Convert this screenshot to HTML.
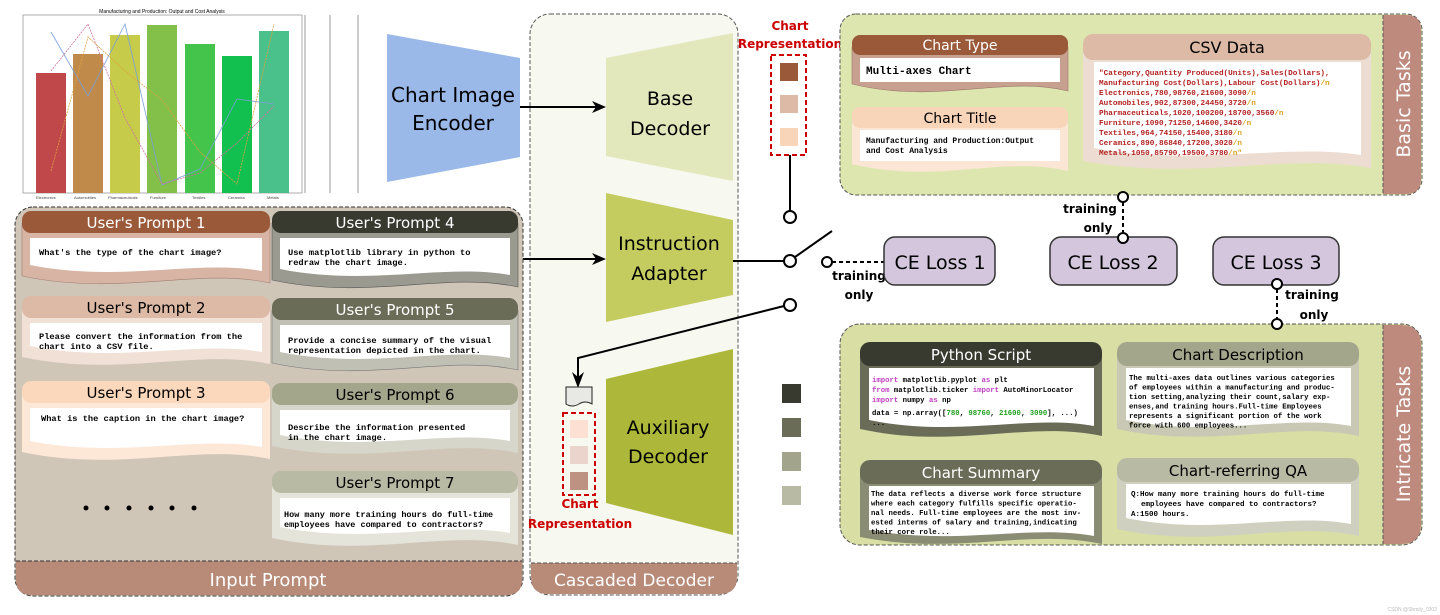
<!DOCTYPE html>
<html><head><meta charset="utf-8"><style>
html,body{margin:0;padding:0;background:#fff;}
svg{display:block}
.h{font-family:"DejaVu Sans","Liberation Sans",sans-serif;}
.m{font-family:"Liberation Mono",monospace;font-weight:bold;}
</style></head><body>
<svg width="1440" height="615" viewBox="0 0 1440 615" xmlns="http://www.w3.org/2000/svg">
<!-- chart -->
<g>
<rect x="23" y="15" width="279" height="178" fill="#fff" stroke="#999" stroke-width="0.8"/>
<text x="162" y="13" font-size="5" text-anchor="middle" font-family="Liberation Sans">Manufacturing and Production: Output and Cost Analysis</text>
<rect x="36" y="73" width="30" height="120" fill="#c0474a"/>
<rect x="73" y="54" width="30" height="139" fill="#c08a4a"/>
<rect x="110" y="35" width="30" height="158" fill="#c6cc4a"/>
<rect x="147" y="25" width="30" height="168" fill="#82c04a"/>
<rect x="185" y="44" width="30" height="149" fill="#44c44a"/>
<rect x="222" y="56" width="30" height="137" fill="#12c050"/>
<rect x="259" y="31" width="30" height="162" fill="#4ac08a"/>
<polyline points="51,32 88,96 125,24 162,185 200,169 237,99 274,104" fill="none" stroke="#7aa0d8" stroke-width="0.8"/>
<polyline points="51,71 88,24 125,118 162,184 200,173 237,143 274,106" fill="none" stroke="#d070a0" stroke-width="0.8" stroke-dasharray="2,1"/>
<polyline points="51,171 88,37 125,71 162,100 200,152 237,184 274,24" fill="none" stroke="#e0a040" stroke-width="0.8" stroke-dasharray="2,1"/>
<line x1="305" y1="15" x2="305" y2="193" stroke="#999"/>
<line x1="330" y1="15" x2="330" y2="193" stroke="#999"/>
<line x1="358" y1="15" x2="358" y2="193" stroke="#999"/>
<g font-size="4" font-family="Liberation Sans" fill="#444">
<text x="36" y="199">Electronics</text><text x="74" y="199">Automobiles</text><text x="108" y="199">Pharmaceuticals</text><text x="150" y="199">Furniture</text><text x="192" y="199">Textiles</text><text x="228" y="199">Ceramics</text><text x="267" y="199">Metals</text>
</g>
</g>
<!-- encoder -->
<polygon points="387,34 520,58 520,157 387,182" fill="#9ab8e8"/>
<text class="h" x="453" y="102" font-size="20" text-anchor="middle">Chart Image</text>
<text class="h" x="453" y="130" font-size="20" text-anchor="middle">Encoder</text>
<!-- cascaded decoder -->
<rect x="530" y="14" width="208" height="581" rx="20" fill="#f7f8f0" stroke="#555" stroke-dasharray="4,2"/>
<path d="M531,563 H737 V577 Q737,594 720,594 H548 Q531,594 531,577 Z" fill="#b88a78"/>
<line x1="531" y1="563" x2="737" y2="563" stroke="#555" stroke-dasharray="4,2"/>
<text class="h" x="634" y="586" font-size="17" fill="#fff" text-anchor="middle">Cascaded Decoder</text>
<polygon points="606,58 733,33 733,181 606,156" fill="#e2e8bc"/>
<text class="h" x="670" y="105" font-size="19" text-anchor="middle">Base</text>
<text class="h" x="670" y="135" font-size="19" text-anchor="middle">Decoder</text>
<polygon points="606,193 733,220 733,295 606,322" fill="#c4cc60"/>
<text class="h" x="669" y="250" font-size="19" text-anchor="middle">Instruction</text>
<text class="h" x="669" y="280" font-size="19" text-anchor="middle">Adapter</text>
<polygon points="606,379 733,349 733,535 606,503" fill="#adb83a"/>
<text class="h" x="668" y="434" font-size="19" text-anchor="middle">Auxiliary</text>
<text class="h" x="668" y="463" font-size="19" text-anchor="middle">Decoder</text>
<!-- arrows -->
<line x1="520" y1="107" x2="598" y2="107" stroke="#000" stroke-width="2"/>
<polygon points="606,107 592,101 596,107 592,113" fill="#000"/>
<line x1="520" y1="259" x2="598" y2="259" stroke="#000" stroke-width="2"/>
<polygon points="606,259 592,253 596,259 592,265" fill="#000"/>
<!-- chart rep top -->
<text class="h" x="790" y="30" font-size="12" font-weight="bold" fill="#c00" text-anchor="middle">Chart</text>
<text class="h" x="790" y="48" font-size="12" font-weight="bold" fill="#c00" text-anchor="middle">Representation</text>
<rect x="771" y="55" width="35" height="100" fill="none" stroke="#c00" stroke-width="2" stroke-dasharray="5,3"/>
<rect x="780" y="63" width="18" height="18" fill="#9a5a3a"/>
<rect x="780" y="95" width="18" height="18" fill="#dcbaa6"/>
<rect x="780" y="128" width="18" height="18" fill="#f8d4b8"/>
<line x1="790" y1="155" x2="790" y2="211" stroke="#000" stroke-width="2"/>
<circle cx="790" cy="217" r="6" fill="#fff" stroke="#000" stroke-width="2"/>
<line x1="733" y1="261" x2="784" y2="261" stroke="#000" stroke-width="2"/>
<circle cx="790" cy="261" r="6" fill="#fff" stroke="#000" stroke-width="2"/>
<line x1="795" y1="257" x2="832" y2="231" stroke="#000" stroke-width="2"/>
<circle cx="827" cy="262" r="5" fill="#fff" stroke="#000" stroke-width="2"/>
<line x1="832" y1="262" x2="885" y2="262" stroke="#000" stroke-width="2" stroke-dasharray="4,3"/>
<circle cx="890" cy="262" r="5" fill="#fff" stroke="#000" stroke-width="2"/>
<text class="h" x="859" y="280" font-size="12" font-weight="bold" text-anchor="middle">training</text>
<text class="h" x="859" y="299" font-size="12" font-weight="bold" text-anchor="middle">only</text>
<circle cx="790" cy="305" r="6" fill="#fff" stroke="#000" stroke-width="2"/>
<polyline points="784,306 578,358 578,378" fill="none" stroke="#000" stroke-width="2"/>
<polygon points="578,388 572,372 578,377 584,372" fill="#000"/>
<path d="M566,387 H592 V404 Q585,400 579,404 Q572,408 566,404 Z" fill="#e8e8e4" stroke="#222"/>
<rect x="563" y="413" width="32" height="82" fill="none" stroke="#c00" stroke-width="2" stroke-dasharray="5,3"/>
<rect x="570" y="420" width="18" height="18" fill="#fde0d4"/>
<rect x="570" y="446" width="18" height="18" fill="#ead4cc"/>
<rect x="570" y="472" width="18" height="18" fill="#be9282"/>
<text class="h" x="580" y="508" font-size="12" font-weight="bold" fill="#c00" text-anchor="middle">Chart</text>
<text class="h" x="580" y="528" font-size="12" font-weight="bold" fill="#c00" text-anchor="middle">Representation</text>
<!-- legend -->
<rect x="782" y="384" width="19" height="19" fill="#383a30"/>
<rect x="782" y="418" width="19" height="19" fill="#6a6c58"/>
<rect x="782" y="452" width="19" height="19" fill="#a2a48c"/>
<rect x="782" y="486" width="19" height="19" fill="#b8baa4"/>
<!-- CE losses -->
<rect x="884" y="237" width="111" height="48" rx="11" fill="#d4c6dc" stroke="#333" stroke-width="1.5"/>
<text class="h" x="940" y="269" font-size="19" text-anchor="middle">CE Loss 1</text>
<rect x="1050" y="237" width="127" height="48" rx="11" fill="#d4c6dc" stroke="#333" stroke-width="1.5"/>
<text class="h" x="1113" y="269" font-size="19" text-anchor="middle">CE Loss 2</text>
<rect x="1213" y="237" width="126" height="48" rx="11" fill="#d4c6dc" stroke="#333" stroke-width="1.5"/>
<text class="h" x="1276" y="269" font-size="19" text-anchor="middle">CE Loss 3</text>
<!-- basic panel -->
<rect x="840" y="14" width="582" height="181" rx="16" fill="#dee6b0" stroke="#555" stroke-dasharray="4,2"/>
<path d="M1383,15 H1406 Q1421,15 1421,30 V179 Q1421,194 1406,194 H1383 Z" fill="#bf8a7e"/>
<line x1="1383" y1="15" x2="1383" y2="194" stroke="#555" stroke-dasharray="4,2"/>
<text class="h" x="1410" y="104" font-size="19" fill="#fff" text-anchor="middle" transform="rotate(-90 1410 104)">Basic Tasks</text>
<line x1="1123" y1="202" x2="1123" y2="232" stroke="#000" stroke-width="2" stroke-dasharray="4,3"/>
<circle cx="1123" cy="197" r="5" fill="#fff" stroke="#000" stroke-width="2"/>
<circle cx="1123" cy="238" r="5" fill="#fff" stroke="#000" stroke-width="2"/>
<text class="h" x="1090" y="213" font-size="12" font-weight="bold" text-anchor="middle">training</text>
<text class="h" x="1098" y="232" font-size="12" font-weight="bold" text-anchor="middle">only</text>
<line x1="1277" y1="289" x2="1277" y2="318" stroke="#000" stroke-width="2" stroke-dasharray="4,3"/>
<circle cx="1277" cy="284" r="5" fill="#fff" stroke="#000" stroke-width="2"/>
<text class="h" x="1312" y="299" font-size="12" font-weight="bold" text-anchor="middle">training</text>
<text class="h" x="1314" y="319" font-size="12" font-weight="bold" text-anchor="middle">only</text>
<!-- intricate panel -->
<rect x="840" y="324" width="582" height="221" rx="20" fill="#d8dea4" stroke="#555" stroke-dasharray="4,2"/>
<path d="M1383,325 H1401 Q1421,325 1421,345 V524 Q1421,544 1401,544 H1383 Z" fill="#bf8a7e"/>
<line x1="1383" y1="325" x2="1383" y2="544" stroke="#555" stroke-dasharray="4,2"/>
<text class="h" x="1410" y="434" font-size="19" fill="#fff" text-anchor="middle" transform="rotate(-90 1410 434)">Intricate Tasks</text>
<circle cx="1277" cy="324" r="5" fill="#fff" stroke="#000" stroke-width="2"/>
<!-- Chart Type -->
<path d="M852,47 H1068 V91 C1003,75 938,105 852,84Z" fill="#c8a090" stroke="#9a7a6a" stroke-width="0.6"/>
<rect x="860" y="58" width="200" height="24" fill="#fff"/>
<rect x="852" y="35" width="216" height="20" rx="8" fill="#9a5a3a"/>
<text class="h" x="960" y="50" font-size="14" fill="#fff" text-anchor="middle">Chart Type</text>
<text class="m" x="866" y="74" font-size="11">Multi-axes Chart</text>
<!-- Chart Title -->
<path d="M852,119 H1068 V171 C1003,155 938,185 852,164Z" fill="#fbe6d6"/>
<rect x="860" y="130" width="200" height="31" fill="#fff"/>
<rect x="852" y="107" width="216" height="21" rx="8" fill="#f8d4b8"/>
<text class="h" x="960" y="123" font-size="14" text-anchor="middle">Chart Title</text>
<text class="m" x="866" y="143" font-size="8">Manufacturing and Production:Output</text>
<text class="m" x="866" y="153" font-size="8">and Cost Analysis</text>
<!-- CSV -->
<path d="M1083,46 H1371 V168 C1285,152 1198,182 1083,161Z" fill="#ecdcd2"/>
<path d="M1094,62 H1361 V155 C1285,143 1198,167 1094,148Z" fill="#fff"/>
<rect x="1083" y="34" width="288" height="26" rx="10" fill="#dcbaa6"/>
<text class="h" x="1227" y="53" font-size="16" text-anchor="middle">CSV Data</text>
<g class="m" font-size="7.7" fill="#b22222">
<text x="1099" y="75">"Category,Quantity Produced(Units),Sales(Dollars),</text>
<text x="1099" y="85">Manufacturing Cost(Dollars),Labour Cost(Dollars)<tspan fill="#d8a020">/n</tspan></text>
<text x="1099" y="95">Electronics,780,98760,21600,3090<tspan fill="#d8a020">/n</tspan></text>
<text x="1099" y="105">Automobiles,902,87300,24450,3720<tspan fill="#d8a020">/n</tspan></text>
<text x="1099" y="115">Pharmaceuticals,1020,100200,18700,3560<tspan fill="#d8a020">/n</tspan></text>
<text x="1099" y="125">Furniture,1090,71250,14600,3420<tspan fill="#d8a020">/n</tspan></text>
<text x="1099" y="135">Textiles,964,74150,15400,3180<tspan fill="#d8a020">/n</tspan></text>
<text x="1099" y="145">Ceramics,890,86840,17200,3020<tspan fill="#d8a020">/n</tspan></text>
<text x="1099" y="155">Metals,1050,85790,19500,3780<tspan fill="#d8a020">/n"</tspan></text>
</g>
<!-- Python -->
<path d="M860,354 H1102 V436 C1029,420 957,450 860,429Z" fill="#6a6c58"/>
<path d="M869,368 H1094 V426 C1029,414 957,438 869,420Z" fill="#fff"/>
<rect x="860" y="342" width="242" height="24" rx="10" fill="#383a30"/>
<text class="h" x="981" y="360" font-size="15" fill="#fff" text-anchor="middle">Python Script</text>
<g class="m" font-size="7.3" font-weight="normal">
<text x="872" y="382"><tspan fill="#c040c0">import</tspan> matplotlib.pyplot <tspan fill="#c040c0">as</tspan> plt</text>
<text x="872" y="392"><tspan fill="#c040c0">from</tspan> matplotlib.ticker <tspan fill="#c040c0">import</tspan> AutoMinorLocator</text>
<text x="872" y="402"><tspan fill="#c040c0">import</tspan> numpy <tspan fill="#c040c0">as</tspan> np</text>
<text x="872" y="415">data = np.array([<tspan fill="#20a020">780</tspan>, <tspan fill="#20a020">98760</tspan>, <tspan fill="#20a020">21600</tspan>, <tspan fill="#20a020">3090</tspan>], ...)</text>
<text x="872" y="425">...</text>
</g>
<!-- Description -->
<path d="M1117,354 H1359 V436 C1286,420 1214,450 1117,429Z" fill="#c8c8b4"/>
<path d="M1126,368 H1351 V426 C1286,414 1214,438 1126,420Z" fill="#fff"/>
<rect x="1117" y="342" width="242" height="24" rx="10" fill="#a4a68c"/>
<text class="h" x="1238" y="360" font-size="15" text-anchor="middle">Chart Description</text>
<g class="m" font-size="7.3">
<text x="1129" y="380">The multi-axes data outlines various categories</text>
<text x="1129" y="389.5">of employees within a manufacturing and produc-</text>
<text x="1129" y="399">tion setting,analyzing their count,salary exp-</text>
<text x="1129" y="408.5">enses,and training hours.Full-time Employees</text>
<text x="1129" y="418">represents a significant portion of the work</text>
<text x="1129" y="427.5">force with 600 employees...</text>
</g>
<!-- Summary -->
<path d="M860,472 H1102 V544 C1029,528 957,556 860,537Z" fill="#8a8c74"/>
<path d="M869,486 H1094 V536 C1029,524 957,546 869,530Z" fill="#fff"/>
<rect x="860" y="460" width="242" height="24" rx="10" fill="#6a6c58"/>
<text class="h" x="981" y="478" font-size="15" fill="#fff" text-anchor="middle">Chart Summary</text>
<g class="m" font-size="7.3">
<text x="871" y="496">The data reflects a diverse work force structure</text>
<text x="871" y="505.5">where each category fulfills specific operatio-</text>
<text x="871" y="515">nal needs. Full-time employees are the most inv-</text>
<text x="871" y="524.5">ested interms of salary and training,indicating</text>
<text x="871" y="534">their core role...</text>
</g>
<!-- QA -->
<path d="M1117,470 H1359 V536 C1286,520 1214,550 1117,529Z" fill="#d0d0c0"/>
<path d="M1126,484 H1351 V524 C1286,512 1214,536 1126,518Z" fill="#fff"/>
<rect x="1117" y="458" width="242" height="24" rx="10" fill="#b8baa4"/>
<text class="h" x="1238" y="476" font-size="15" text-anchor="middle">Chart-referring QA</text>
<g class="m" font-size="7.5">
<text x="1131" y="496">Q:How many more training hours do full-time</text>
<text x="1141" y="506">employees have compared to contractors?</text>
<text x="1131" y="516">A:1500 hours.</text>
</g>
<!-- Input prompt panel -->
<rect x="15" y="207" width="508" height="389" rx="18" fill="#d0c6b8" stroke="#333" stroke-dasharray="4,2"/>
<path d="M16,561 H522 V580 Q522,595 506,595 H32 Q16,595 16,580 Z" fill="#b88a78"/>
<line x1="16" y1="561" x2="522" y2="561" stroke="#333" stroke-dasharray="4,2"/>
<text class="h" x="268" y="586" font-size="18" fill="#fff" text-anchor="middle">Input Prompt</text>
<!-- P1 -->
<path d="M22,223 H270 V283 C196,267 121,297 22,276Z" fill="#d8b4a4" stroke="#a08070" stroke-width="0.6"/>
<path d="M30,238 H262 V271 C196,259 121,283 30,265Z" fill="#fff"/>
<rect x="22" y="211" width="248" height="22" rx="9" fill="#9a5a3a"/>
<text class="h" x="146" y="228" font-size="15" fill="#fff" text-anchor="middle">User's Prompt 1</text>
<text class="m" x="39" y="255" font-size="8.7">What's the type of the chart image?</text>
<!-- P2 -->
<path d="M22,308 H270 V364 C196,348 121,378 22,357Z" fill="#f0e0d6"/>
<path d="M30,323 H262 V352 C196,340 121,364 30,346Z" fill="#fff"/>
<rect x="22" y="296" width="248" height="22" rx="9" fill="#dcbaa6"/>
<text class="h" x="146" y="313" font-size="15" text-anchor="middle">User's Prompt 2</text>
<text class="m" x="39" y="339" font-size="8.7">Please convert the information from the</text>
<text class="m" x="39" y="349" font-size="8.7">chart into a CSV file.</text>
<!-- P3 -->
<path d="M22,393 H270 V459 C196,443 121,473 22,452Z" fill="#fde8d8"/>
<path d="M30,408 H262 V447 C196,435 121,459 30,441Z" fill="#fff"/>
<rect x="22" y="381" width="248" height="22" rx="9" fill="#fbd8bc"/>
<text class="h" x="146" y="398" font-size="15" text-anchor="middle">User's Prompt 3</text>
<text class="m" x="41" y="421" font-size="8.7">What is the caption in the chart image?</text>
<!-- dots -->
<g fill="#000"><circle cx="86" cy="508" r="2.5"/><circle cx="107" cy="508" r="2.5"/><circle cx="129" cy="508" r="2.5"/><circle cx="151" cy="508" r="2.5"/><circle cx="172" cy="508" r="2.5"/><circle cx="194" cy="508" r="2.5"/></g>
<!-- P4 -->
<path d="M272,223 H518 V287 C444,271 370,301 272,280Z" fill="#9a9a90" stroke="#555" stroke-width="0.6"/>
<path d="M280,238 H510 V275 C444,263 370,287 280,269Z" fill="#fff"/>
<rect x="272" y="211" width="246" height="22" rx="9" fill="#383a30"/>
<text class="h" x="395" y="228" font-size="15" fill="#fff" text-anchor="middle">User's Prompt 4</text>
<text class="m" x="288" y="255" font-size="8.7">Use matplotlib library in python to</text>
<text class="m" x="288" y="265" font-size="8.7">redraw the chart image.</text>
<!-- P5 -->
<path d="M272,310 H518 V370 C444,354 370,384 272,363Z" fill="#c0c0b4" stroke="#777" stroke-width="0.6"/>
<path d="M280,325 H510 V358 C444,346 370,370 280,352Z" fill="#fff"/>
<rect x="272" y="298" width="246" height="22" rx="9" fill="#6a6c58"/>
<text class="h" x="395" y="315" font-size="15" fill="#fff" text-anchor="middle">User's Prompt 5</text>
<text class="m" x="288" y="343" font-size="8.7">Provide a concise summary of the visual</text>
<text class="m" x="288" y="353" font-size="8.7">representation depicted in the chart.</text>
<!-- P6 -->
<path d="M272,395 H518 V453 C444,437 370,467 272,446Z" fill="#d6d6ca"/>
<path d="M280,410 H510 V441 C444,429 370,453 280,435Z" fill="#fff"/>
<rect x="272" y="383" width="246" height="22" rx="9" fill="#a4a68c"/>
<text class="h" x="395" y="400" font-size="15" text-anchor="middle">User's Prompt 6</text>
<text class="m" x="288" y="430" font-size="8.7">Describe the information presented</text>
<text class="m" x="288" y="440" font-size="8.7">in the chart image.</text>
<!-- P7 -->
<path d="M272,483 H518 V545 C444,529 370,559 272,538Z" fill="#e4e4da"/>
<path d="M280,498 H510 V533 C444,521 370,545 280,527Z" fill="#fff"/>
<rect x="272" y="471" width="246" height="22" rx="9" fill="#b8baa4"/>
<text class="h" x="395" y="488" font-size="15" text-anchor="middle">User's Prompt 7</text>
<text class="m" x="284" y="517" font-size="8.5">How many more training hours do full-time</text>
<text class="m" x="284" y="527" font-size="8.5">employees have compared to contractors?</text>
<text x="1437" y="611" font-size="5" fill="#bbb" text-anchor="end" font-family="Liberation Sans">CSDN @Shmily_0302</text>
</svg>
</body></html>
